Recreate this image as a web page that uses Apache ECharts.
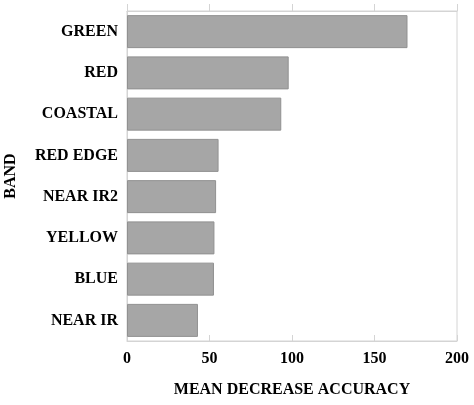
<!DOCTYPE html>
<html>
<head>
<meta charset="utf-8">
<script src="https://cdn.jsdelivr.net/npm/echarts@6/dist/echarts.min.js"></script>
<style>
  html, body { margin: 0; padding: 0; background: #fff; }
  #chart { width: 474px; height: 405px; }
</style>
</head>
<body>
<div id="chart"></div>
<script>
// bands, top to bottom
var bands = ['GREEN', 'RED', 'COASTAL', 'RED EDGE', 'NEAR IR2', 'YELLOW', 'BLUE', 'NEAR IR'];
// mean decrease accuracy per band
var accuracy = [170, 98, 93.5, 55.5, 54, 53, 52.7, 43];
var xTicks = [0, 50, 100, 150, 200];

var serif = '"Liberation Serif", "Times New Roman", serif';
var lineGrey = '#d4d4d4';

var myChart = echarts.init(document.getElementById('chart'));
myChart.setOption({
    animation: false,
    grid: {
        left: 127, right: 17, top: 11, bottom: 64,
        outerBoundsMode: 'none',
        containLabel: false,
        show: true, borderColor: lineGrey, borderWidth: 1
    },
    xAxis: [{
        type: 'value',
        min: xTicks[0], max: xTicks[xTicks.length - 1], interval: 50,
        position: 'bottom',
        name: 'MEAN DECREASE ACCURACY',
        nameLocation: 'middle',
        nameGap: 41,
        nameTextStyle: { fontFamily: serif, fontWeight: 'bold', fontSize: 16, color: '#000' },
        axisLine: { show: true, lineStyle: { color: lineGrey } },
        axisTick: { show: true, inside: true, length: 6, lineStyle: { color: lineGrey } },
        axisLabel: { fontFamily: serif, fontWeight: 'bold', fontSize: 16, color: '#000', margin: 10 },
        splitLine: { show: false }
    }, {
        type: 'value',
        min: xTicks[0], max: xTicks[xTicks.length - 1], interval: 50,
        position: 'top',
        axisLine: { show: true, lineStyle: { color: lineGrey } },
        axisTick: { show: true, length: 7, lineStyle: { color: lineGrey } },
        axisLabel: { show: false },
        splitLine: { show: false }
    }],
    yAxis: {
        type: 'category',
        data: bands,
        inverse: true,
        name: 'BAND',
        nameLocation: 'middle',
        nameGap: 108,
        nameRotate: 90,
        nameTextStyle: { fontFamily: serif, fontWeight: 'bold', fontSize: 16, color: '#000' },
        axisLine: { show: true, lineStyle: { color: lineGrey } },
        axisTick: { show: false },
        axisLabel: { fontFamily: serif, fontWeight: 'bold', fontSize: 16, color: '#000', margin: 9 }
    },
    series: [{
        type: 'bar',
        data: accuracy,
        barCategoryGap: '20%',
        itemStyle: { color: '#a6a6a6', borderColor: '#919191', borderWidth: 1 }
    }]
});
</script>
</body>
</html>
